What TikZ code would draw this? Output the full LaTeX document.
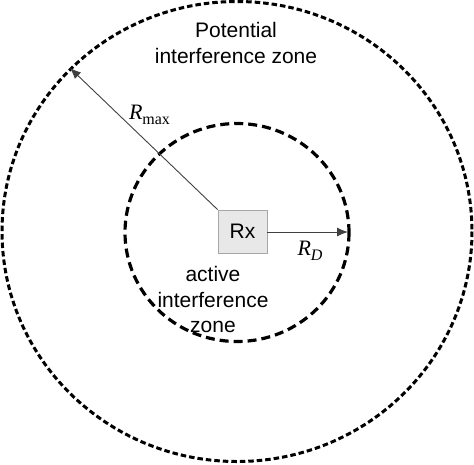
\documentclass[tikz,border=0pt]{standalone}
\usepackage{fontspec}
\setmainfont{Liberation Sans}
\newfontfamily\timesfont{Liberation Serif}
\usetikzlibrary{arrows.meta}
\begin{document}
\begin{tikzpicture}[x=1pt,y=-1pt,
  outerzone/.style={draw=black,line width=3pt,dash pattern=on 5.5pt off 3pt},
  innerzone/.style={draw=black,line width=3.2pt,dash pattern=on 9pt off 5pt},
  rxbox/.style={draw=gray!70,fill=gray!18,line width=0.9pt,minimum width=49pt,minimum height=43pt,inner sep=0pt,font=\fontsize{21}{24}\selectfont},
  radius arrow/.style={draw=black!75,line width=0.9pt,-{Latex[length=11pt,width=9pt]}},
  lbl/.style={font=\fontsize{21}{25.5}\selectfont,align=center,inner sep=0pt},
  mlbl/.style={font=\timesfont\fontsize{22}{24}\selectfont,inner sep=0pt}]
\useasboundingbox (0,0) rectangle (474,464);
\draw[outerzone] (237,231.5) ellipse [x radius=235, y radius=230];
\draw[innerzone] (237,232.5) ellipse [x radius=112, y radius=109];
\node[rxbox] (rx) at (242.5,231.5) {Rx};
\coordinate (outertip) at (70,68);
\coordinate (innertip) at (348,232);
\draw[radius arrow] (rx.north west) -- (outertip);
\draw[radius arrow] (rx.east |- innertip) -- (innertip);
\node[lbl] (pot) at (236,43) {Potential\\interference zone};
\node[lbl] (act) at (213,299.5) {active\\interference\\zone};
\node[mlbl] (rmax) at (149.5,115) {\textit{R}\raisebox{-0.25em}{\fontsize{16}{16}\selectfont max}};
\node[mlbl] (rd) at (310,251) {\textit{R}\raisebox{-0.25em}{\fontsize{16}{16}\selectfont\textit{D}}};
\end{tikzpicture}
\end{document}
